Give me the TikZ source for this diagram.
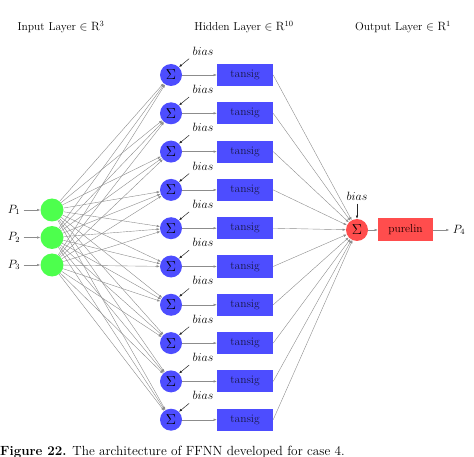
\documentclass[tikz,border=0pt]{standalone}
\usetikzlibrary{arrows.meta,positioning}
\definecolor{ingreen}{HTML}{4DFF4D}
\definecolor{hidblue}{HTML}{4D4DFF}
\definecolor{outred}{HTML}{FF4D4D}
\begin{document}
\begin{tikzpicture}[x=1pt,y=-1pt,>={Latex[length=3.2pt,width=2.4pt]},
 font=\fontsize{11.5}{14}\selectfont,
 inp/.style={circle,fill=ingreen,minimum size=23pt,inner sep=0pt},
 sum/.style={circle,fill=#1,minimum size=22pt,inner sep=0pt,font=\Large},
 fn/.style={fill=#1,minimum width=56pt,minimum height=22pt,inner sep=0pt,text=black!80!blue!90},
 wire/.style={->,gray!90,line width=0.4pt},
 biasarr/.style={->,black!85,line width=0.5pt}]
 \useasboundingbox (0,0) rectangle (474,457);
 % layer titles
 \node (tin) at (61,27) {Input Layer $\in \mathrm{R}^3$};
 \node (thid) at (244,27) {Hidden Layer $\in \mathrm{R}^{10}$};
 \node (tout) at (403,27) {Output Layer $\in \mathrm{R}^1$};
 % input layer
 \foreach \i/\y in {1/210,2/237.5,3/265} {
  \node[inp] (in\i) at (52,\y) {};
  \node (p\i) at (14,\y) {$P_\i$};
  \draw[wire] (p\i) -- (in\i);
 }
 % hidden layer
 \foreach \j in {1,...,10} {
  \pgfmathsetmacro\y{75+38.3*(\j-1)}
  \node[sum=hidblue] (h\j) at (171,\y) {$\Sigma$};
  \node[fn=hidblue] (t\j) at (245,\y) {tansig};
  \node (b\j) at (203,\y-24) {$bias$};
  \draw[biasarr] (b\j.south west) -- (h\j.45);
  \draw[wire] (h\j) -- (t\j);
  \foreach \i in {1,2,3} \draw[wire] (in\i) -- (h\j);
 }
 % output layer
 \node[sum=outred] (o) at (357,230) {$\Sigma$};
 \node[fn=outred,minimum width=55pt,minimum height=23pt,text=black!85!red] (f) at (405.5,230) {purelin};
 \node (p4) at (459,230) {$P_4$};
 \node (bo) at (357,196) {$bias$};
 \draw[biasarr] (bo) -- (o);
 \foreach \j in {1,...,10} \draw[wire] (t\j.east) -- (o);
 \draw[wire] (o) -- (f);
 \draw[wire] (f) -- (p4);
 % caption
 \node[anchor=base west,inner sep=0pt,font=\fontsize{13.3}{15}\selectfont] (cap) at (0,455)
  {\textbf{Figure 22.} The architecture of FFNN developed for case 4.};
\end{tikzpicture}
\end{document}
